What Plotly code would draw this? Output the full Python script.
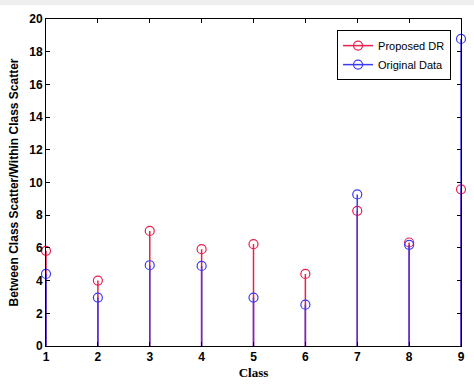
import plotly.graph_objects as go

classes = [1, 2, 3, 4, 5, 6, 7, 8, 9]
proposed_dr = [5.82, 4.0, 7.04, 5.92, 6.23, 4.41, 8.27, 6.33, 9.58]
original_data = [4.41, 2.96, 4.94, 4.9, 2.96, 2.53, 9.27, 6.19, 18.78]
y_ticks = [0, 2, 4, 6, 8, 10, 12, 14, 16, 18, 20]

RED = "#e8204c"
BLUE = "#3c3cf0"


def stems(xs, ys):
    sx, sy = [], []
    for x, y in zip(xs, ys):
        sx += [x, x, None]
        sy += [0, y, None]
    return sx, sy


fig = go.Figure()
series = [("Proposed DR", proposed_dr, RED), ("Original Data", original_data, BLUE)]
for name, vals, col in series:
    sx, sy = stems(classes, vals)
    fig.add_trace(go.Scatter(x=sx, y=sy, mode="lines", line=dict(color=col, width=1.5),
                             showlegend=False, hoverinfo="skip"))
    fig.add_trace(go.Scatter(x=classes, y=vals, mode="markers", showlegend=False,
                             marker=dict(symbol="circle-open", size=9, color=col, line=dict(width=1.2)),
                             cliponaxis=False))
for name, vals, col in series:
    fig.add_trace(go.Scatter(x=[None], y=[None], mode="lines+markers", name=name,
                             line=dict(color=col, width=1.5),
                             marker=dict(symbol="circle-open", size=9, color=col, line=dict(width=1.2))))

axis_common = dict(showline=True, linecolor="black", linewidth=1, mirror="ticks",
                   ticks="inside", ticklen=4, tickcolor="black", showgrid=False, zeroline=False,
                   automargin=False,
                   tickfont=dict(family="Liberation Sans, Arial", size=12, color="black", weight="bold"))

fig.update_xaxes(range=[1, 9], tickvals=classes, **axis_common,
                 title=dict(text="<b>Class</b>", font=dict(family="Liberation Serif, Times New Roman", size=13, color="black"), standoff=4))
fig.update_yaxes(range=[0, 20], tickvals=y_ticks, **axis_common,
                 title=dict(text="<b>Between Class Scatter/Within Class Scatter</b>",
                            font=dict(family="Liberation Sans, Arial", size=12, color="black"), standoff=8))

fig.update_layout(
    width=474, height=384,
    margin=dict(l=46, r=13, t=19, b=38),
    paper_bgcolor="white", plot_bgcolor="white",
    showlegend=True,
    legend=dict(x=0.976, y=0.966, xanchor="right", yanchor="top", bordercolor="black", borderwidth=1,
                bgcolor="white", font=dict(family="Liberation Sans, Arial", size=11, color="black"),
                tracegroupgap=0),
    shapes=[dict(type="rect", xref="paper", yref="paper", x0=-0.2, x1=1.1, y0=1.043, y1=1.1,
                 fillcolor="#eeeeee", line=dict(width=0), layer="above")],
)

fig.write_html("out.html", config={"displayModeBar": False},
               post_script="document.body.style.margin='0';document.body.style.overflow='hidden';")
